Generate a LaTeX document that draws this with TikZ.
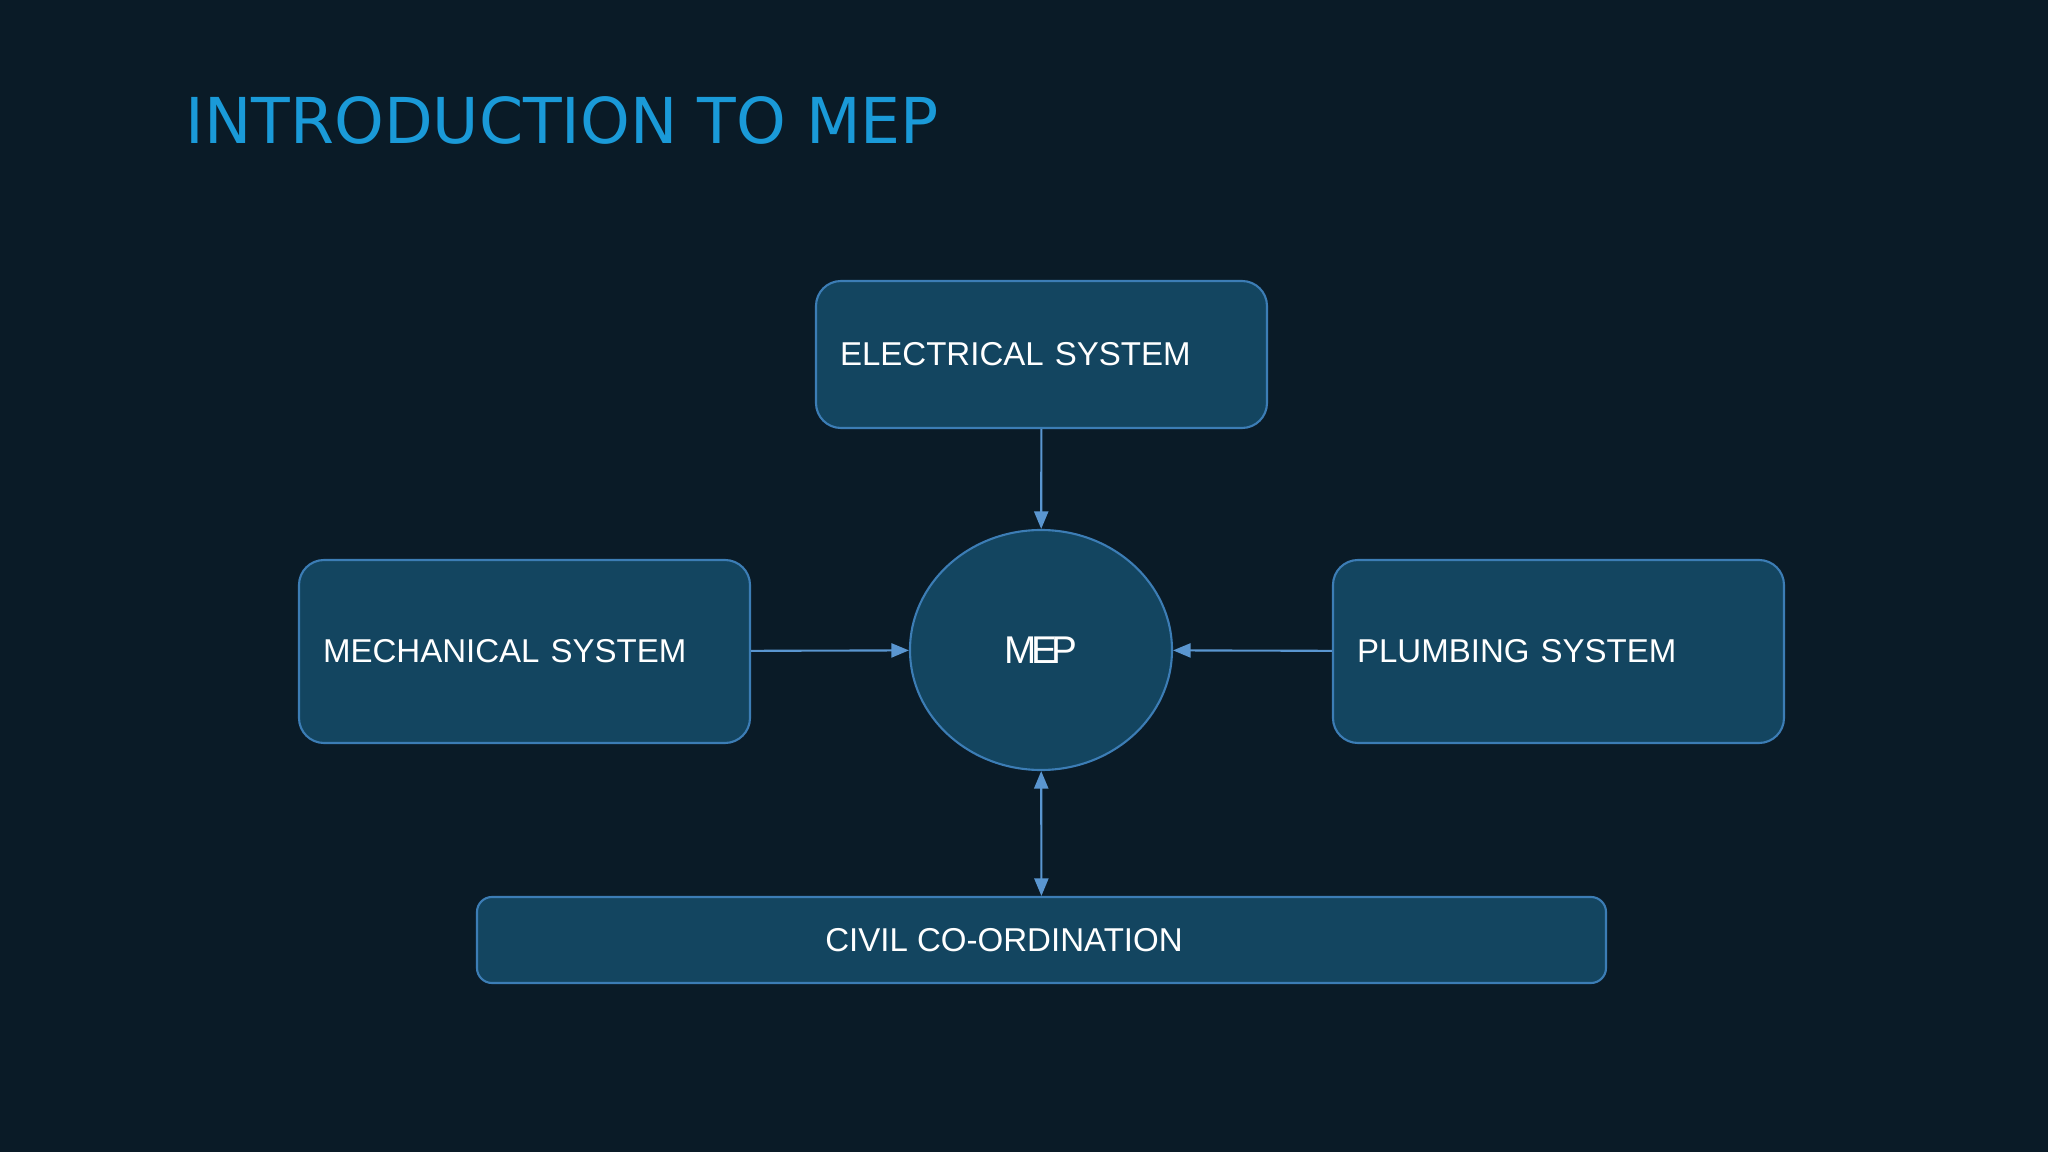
\documentclass[tikz,border=0pt]{standalone}
\usepackage{fontspec}
\setmainfont{Liberation Sans}
\newfontfamily\titlefont{DejaVu Sans}
\usetikzlibrary{positioning, calc, shapes, arrows.meta}
\definecolor{bgdark}{HTML}{0A1B27}
\definecolor{boxfill}{HTML}{134560}
\definecolor{boxline}{HTML}{3C7DB5}
\definecolor{titleblue}{HTML}{1A9AD8}
\definecolor{arrowblue}{HTML}{5A96D0}
\tikzstyle{block} = [rectangle, draw=boxline, fill=boxfill, text=white, rounded corners=0.25cm,
    font=\fontsize{9.4}{11}\selectfont, line width=0.6pt]
\tikzstyle{line} = [draw=arrowblue, line width=0.6pt, -{Triangle[length=5pt,width=4pt]}]

\begin{document}
\begin{tikzpicture}
  \fill[bgdark] (0,0) rectangle (20.48,-11.52);
  \useasboundingbox (0,0) rectangle (20.48,-11.52);
   % Title
    \node[anchor=base west, text=titleblue, font=\titlefont\fontsize{18}{20}\selectfont, inner sep=0]
      (title) at (1.85,-1.44) {INTRODUCTION TO MEP};
   % Place nodes
    \node [block, minimum width=4.51cm, minimum height=1.47cm, text width=4.03cm, align=left] (elec) at (10.415,-3.545) {ELECTRICAL SYSTEM};
    \node [block, minimum width=4.51cm, minimum height=1.83cm, text width=4.03cm, align=left] (mech) at (5.245,-6.515) {MECHANICAL SYSTEM};
    \node [block, minimum width=4.51cm, minimum height=1.83cm, text width=4.03cm, align=left] (plumb) at (15.585,-6.515) {PLUMBING SYSTEM};
    \node [block, ellipse, minimum width=2.62cm, minimum height=2.40cm, font=\fontsize{11}{13}\selectfont] (mep) at (10.41,-6.5) {M\kern-1.5ptE\kern-1.5ptP};
    \node [block, rounded corners=0.15cm, minimum width=11.29cm, minimum height=0.86cm] (civil) at (10.415,-9.4) {\hspace*{-0.75cm}CIVIL CO-ORDINATION};
   % Draw edges
    \path [line] (elec) -- (mep);
    \path [line] (mech) -- (mep);
    \path [line] (plumb) -- (mep);
    \path [line, {Triangle[length=5pt,width=4pt]}-{Triangle[length=5pt,width=4pt]}] (mep) -- (civil);
\end{tikzpicture}
\end{document}
